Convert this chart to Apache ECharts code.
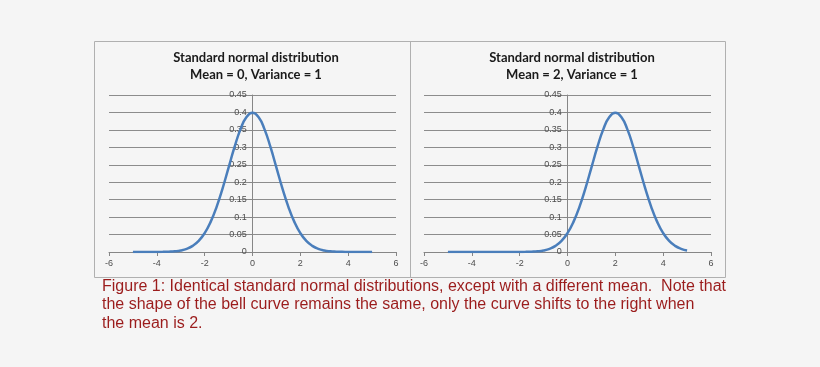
<!DOCTYPE html>
<html>
<head>
<meta charset="utf-8">
<script src="https://cdn.jsdelivr.net/npm/echarts@6/dist/echarts.min.js"></script>
<style>
html,body{margin:0;padding:0;background:#f5f5f5;}
#c{width:820px;height:367px;}
</style>
</head>
<body>
<div id="c"></div>
<script>
const xValues = [-5,-4.75,-4.5,-4.25,-4,-3.75,-3.5,-3.25,-3,-2.75,-2.5,-2.25,-2,-1.75,-1.5,-1.25,-1,-0.75,-0.5,-0.25,0,0.25,0.5,0.75,1,1.25,1.5,1.75,2,2.25,2.5,2.75,3,3.25,3.5,3.75,4,4.25,4.5,4.75,5];
const leftValues = [0,0,0,0,0.0001,0.0004,0.0009,0.002,0.0044,0.0091,0.0175,0.0317,0.054,0.0863,0.1295,0.1826,0.242,0.3011,0.3521,0.3867,0.3989,0.3867,0.3521,0.3011,0.242,0.1826,0.1295,0.0863,0.054,0.0317,0.0175,0.0091,0.0044,0.002,0.0009,0.0004,0.0001,0,0,0,0];
const rightValues = [0,0,0,0,0,0,0,0,0,0,0,0,0.0001,0.0004,0.0009,0.002,0.0044,0.0091,0.0175,0.0317,0.054,0.0863,0.1295,0.1826,0.242,0.3011,0.3521,0.3867,0.3989,0.3867,0.3521,0.3011,0.242,0.1826,0.1295,0.0863,0.054,0.0317,0.0175,0.0091,0.0044];
const titles = ["Standard normal distribution\nMean = 0, Variance = 1", "Standard normal distribution\nMean = 2, Variance = 1"];
const caption = "Figure 1: Identical standard normal distributions, except with a different mean.  Note that\nthe shape of the bell curve remains the same, only the curve shifts to the right when\nthe mean is 2.";
const xTicks = {min:-6, max:6, interval:2};
const yTicks = {min:0, max:0.45, interval:0.05};

const chart = echarts.init(document.getElementById('c'), null, {renderer:'canvas'});
const lblColor = '#4d4d4d';
function xAxis(gi){
  return {type:'value', gridIndex:gi, min:xTicks.min, max:xTicks.max, interval:xTicks.interval,
    axisLine:{show:true, onZero:false, lineStyle:{color:'#868686', width:1}},
    axisTick:{show:true, inside:false, length:4, lineStyle:{color:'#868686'}},
    axisLabel:{color:lblColor, fontSize:9, fontFamily:'Liberation Sans', margin:7},
    splitLine:{show:false}};
}
function yAxis(gi){
  return {type:'value', gridIndex:gi, min:yTicks.min, max:yTicks.max, interval:yTicks.interval,
    position:'left', offset:-143.7,
    axisLine:{show:true, onZero:false, lineStyle:{color:'#868686', width:1}},
    axisTick:{show:true, length:4, lineStyle:{color:'#868686'}},
    axisLabel:{color:lblColor, fontSize:9, fontFamily:'Liberation Sans', margin:6,
      formatter:function(v){return String(Math.round(v*100)/100);}},
    splitLine:{show:true, lineStyle:{color:'#8c8c8c', width:1}}};
}
const option = {
  backgroundColor:'#f5f5f5',
  animation:false,
  title:[
    {text:titles[0], left:251, top:45, textAlign:'center',
     textStyle:{fontSize:13, fontWeight:'bold', fontFamily:'Lato', color:'#1a1a1a', lineHeight:16.5}},
    {text:titles[1], left:567, top:45, textAlign:'center',
     textStyle:{fontSize:13, fontWeight:'bold', fontFamily:'Lato', color:'#1a1a1a', lineHeight:16.5}},
    {text:caption, left:97, top:272,
     textStyle:{fontSize:16, fontWeight:'normal', fontFamily:'Liberation Sans', color:'#9b1c1c', lineHeight:18.5}}
  ],
  graphic:[
    {type:'rect', shape:{x:94.5, y:41.5, width:631, height:236}, style:{fill:'none', stroke:'#b0b0b0', lineWidth:1}, z:-1},
    {type:'line', shape:{x1:410.5, y1:41.5, x2:410.5, y2:277.5}, style:{stroke:'#b0b0b0', lineWidth:1}, z:-1}
  ],
  grid:[
    {left:109, right:424, top:95, bottom:115},
    {left:424, right:109, top:95, bottom:115}
  ],
  xAxis:[xAxis(0), xAxis(1)],
  yAxis:[yAxis(0), yAxis(1)],
  series:[
    {type:'line', xAxisIndex:0, yAxisIndex:0, smooth:true, symbol:'none',
     lineStyle:{color:'#4a7ebb', width:2.5},
     data:xValues.map((x,i)=>[x, leftValues[i]])},
    {type:'line', xAxisIndex:1, yAxisIndex:1, smooth:true, symbol:'none',
     lineStyle:{color:'#4a7ebb', width:2.5},
     data:xValues.map((x,i)=>[x, rightValues[i]])}
  ]
};
chart.setOption(option);
</script>
</body>
</html>
